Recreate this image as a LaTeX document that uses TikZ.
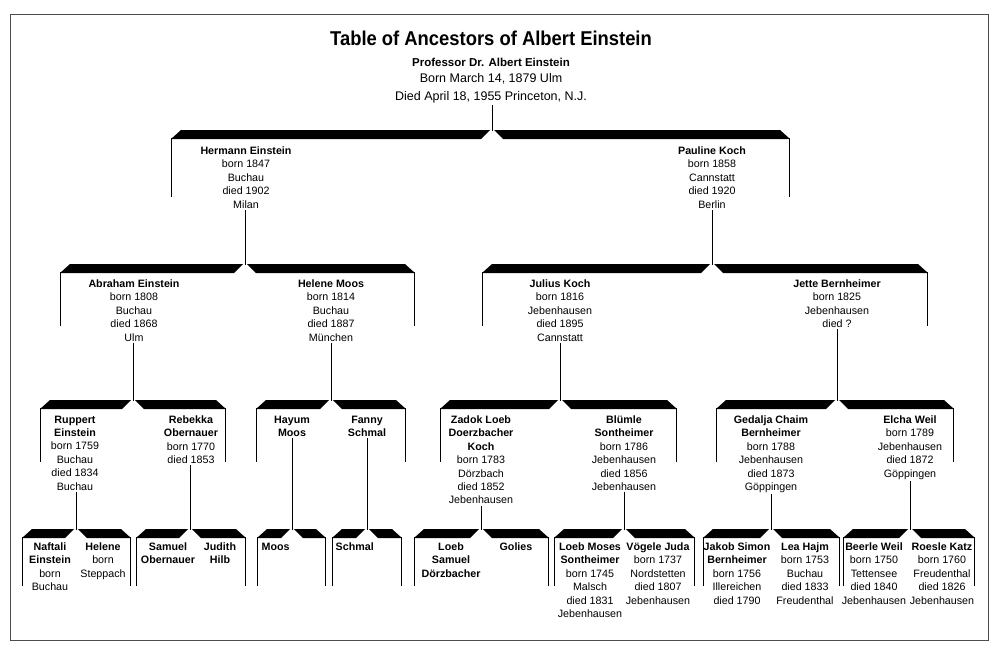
\documentclass[tikz,border=0pt]{standalone}
\usepackage{fontspec}
\setmainfont{Liberation Sans}
\begin{document}
\begin{tikzpicture}[x=1pt,y=-1pt,
  p/.style={align=center,inner sep=1.5pt,font=\fontsize{10.7}{13.4}\selectfont,anchor=north},
  pl/.style={p,align=left,anchor=north west},
  ln/.style={line width=0.6pt},
  legl/.style={line width=0.7pt}]
\useasboundingbox (0,0) rectangle (1000,651);
\draw[line width=0.7pt,black!70] (10,14) rectangle (988,640);
\newcommand\brk[6]{% name, xL, xc, xR, ytop, legend
  \fill (#2,#5+9) -- (#2+10,#5) -- (#3-2,#5) -- (#3-11,#5+9) -- cycle;
  \fill (#4,#5+9) -- (#4-10,#5) -- (#3+2,#5) -- (#3+11,#5+9) -- cycle;
  \draw[legl] (#2+0.4,#5+8) -- (#2+0.4,#6);
  \draw[legl] (#4-0.4,#5+8) -- (#4-0.4,#6);
  \coordinate (#1) at (#3,#5+0.5);}
% title
\node[font=\bfseries\fontsize{20}{24}\selectfont] (title) at (491,38) {\scalebox{0.92}[1]{Table of Ancestors of Albert Einstein}};
\node[p,anchor=center,font=\bfseries\fontsize{11.5}{14}\selectfont] (ae1) at (491,62) {Professor Dr. Albert Einstein};
\node[p,anchor=center,font=\fontsize{12.5}{15}\selectfont] (ae2) at (491,79) {Born March 14, 1879 Ulm};
\node[p,anchor=center,font=\fontsize{12.5}{15}\selectfont] (ae3) at (491,97) {Died April 18, 1955 Princeton, N.J.};
% brackets
\brk{g1}{171}{492}{790}{130}{197}
\brk{g2a}{60}{245}{415}{264}{326}
\brk{g2b}{482}{712}{928}{264}{326}
\brk{g3a}{40}{133}{226}{400}{462}
\brk{g3b}{256}{331}{406}{400}{462}
\brk{g3c}{440}{560}{677}{400}{462}
\brk{g3d}{716}{837}{954}{400}{462}
\brk{g4a}{22}{76}{131}{529}{586}
\brk{g4b}{136}{190}{246}{529}{586}
\brk{g4c}{257}{292}{326}{529}{586}
\brk{g4d}{332}{367}{402}{529}{586}
\brk{g4e}{414}{481}{549}{529}{586}
\brk{g4f}{554}{624}{695}{529}{586}
\brk{g4g}{703}{771}{840}{529}{586}
\brk{g4h}{843}{910}{975}{529}{586}
% gen1
\node[p] (hermann) at (246,145) {\textbf{Hermann Einstein}\\born 1847\\Buchau\\died 1902\\Milan};
\node[p] (pauline) at (712,145) {\textbf{Pauline Koch}\\born 1858\\Cannstatt\\died 1920\\Berlin};
% gen2
\node[p] (abraham) at (134,278) {\textbf{Abraham Einstein}\\born 1808\\Buchau\\died 1868\\Ulm};
\node[p] (helene) at (331,278) {\textbf{Helene Moos}\\born 1814\\Buchau\\died 1887\\München};
\node[p] (julius) at (560,278) {\textbf{Julius Koch}\\born 1816\\Jebenhausen\\died 1895\\Cannstatt};
\node[p] (jette) at (837,278) {\textbf{Jette Bernheimer}\\born 1825\\Jebenhausen\\died ?};
% gen3
\node[p] (ruppert) at (75,414) {\textbf{Ruppert}\\\textbf{Einstein}\\born 1759\\Buchau\\died 1834\\Buchau};
\node[p] (rebekka) at (191,414) {\textbf{Rebekka}\\\textbf{Obernauer}\\born 1770\\died 1853};
\node[p] (hayum) at (292,414) {\textbf{Hayum}\\\textbf{Moos}};
\node[p] (fanny) at (367,414) {\textbf{Fanny}\\\textbf{Schmal}};
\node[p] (zadok) at (481,414) {\textbf{Zadok Loeb}\\\textbf{Doerzbacher}\\\textbf{Koch}\\born 1783\\Dörzbach\\died 1852\\Jebenhausen};
\node[p] (bluemle) at (624,414) {\textbf{Blümle}\\\textbf{Sontheimer}\\born 1786\\Jebenhausen\\died 1856\\Jebenhausen};
\node[p] (gedalja) at (771,414) {\textbf{Gedalja Chaim}\\\textbf{Bernheimer}\\born 1788\\Jebenhausen\\died 1873\\Göppingen};
\node[p] (elcha) at (910,414) {\textbf{Elcha Weil}\\born 1789\\Jebenhausen\\died 1872\\Göppingen};
% gen4
\node[p] (naftali) at (50,541) {\textbf{Naftali}\\\textbf{Einstein}\\born\\Buchau};
\node[p] (helene2) at (103,541) {\textbf{Helene}\\born\\Steppach};
\node[p] (samuel) at (168,541) {\textbf{Samuel}\\\textbf{Obernauer}};
\node[p] (judith) at (220,541) {\textbf{Judith}\\\textbf{Hilb}};
\node[pl] (moos) at (260,541) {\textbf{Moos}};
\node[pl] (schmal) at (334,541) {\textbf{Schmal}};
\node[p] (loeb) at (451,541) {\textbf{Loeb}\\\textbf{Samuel}\\\textbf{Dörzbacher}};
\node[p] (golies) at (516,541) {\textbf{Golies}};
\node[p] (loebm) at (590,541) {\textbf{Loeb Moses}\\\textbf{Sontheimer}\\born 1745\\Malsch\\died 1831\\Jebenhausen};
\node[p] (voegele) at (658,541) {\textbf{Vögele Juda}\\born 1737\\Nordstetten\\died 1807\\Jebenhausen};
\node[p] (jakob) at (737,541) {\textbf{Jakob Simon}\\\textbf{Bernheimer}\\born 1756\\Illereichen\\died 1790};
\node[p] (lea) at (805,541) {\textbf{Lea Hajm}\\born 1753\\Buchau\\died 1833\\Freudenthal};
\node[p] (beerle) at (874,541) {\textbf{Beerle Weil}\\born 1750\\Tettensee\\died 1840\\Jebenhausen};
\node[p] (roesle) at (942,541) {\textbf{Roesle Katz}\\born 1760\\Freudenthal\\died 1826\\Jebenhausen};
% connectors
\draw[ln] (g1) -- (g1 |- ae3.south);
\draw[ln] (g2a) -- (g2a |- hermann.south);
\draw[ln] (g2b) -- (g2b |- pauline.south);
\draw[ln] (g3a) -- (g3a |- abraham.south);
\draw[ln] (g3b) -- (g3b |- helene.south);
\draw[ln] (g3c) -- (g3c |- julius.south);
\draw[ln] (g3d) -- (g3d |- jette.south);
\draw[ln] (g4a) -- (g4a |- ruppert.south);
\draw[ln] (g4b) -- (g4b |- rebekka.south);
\draw[ln] (g4c) -- (g4c |- hayum.south);
\draw[ln] (g4d) -- (g4d |- fanny.south);
\draw[ln] (g4e) -- (g4e |- zadok.south);
\draw[ln] (g4f) -- (g4f |- bluemle.south);
\draw[ln] (g4g) -- (g4g |- gedalja.south);
\draw[ln] (g4h) -- (g4h |- elcha.south);
\end{tikzpicture}
\end{document}
